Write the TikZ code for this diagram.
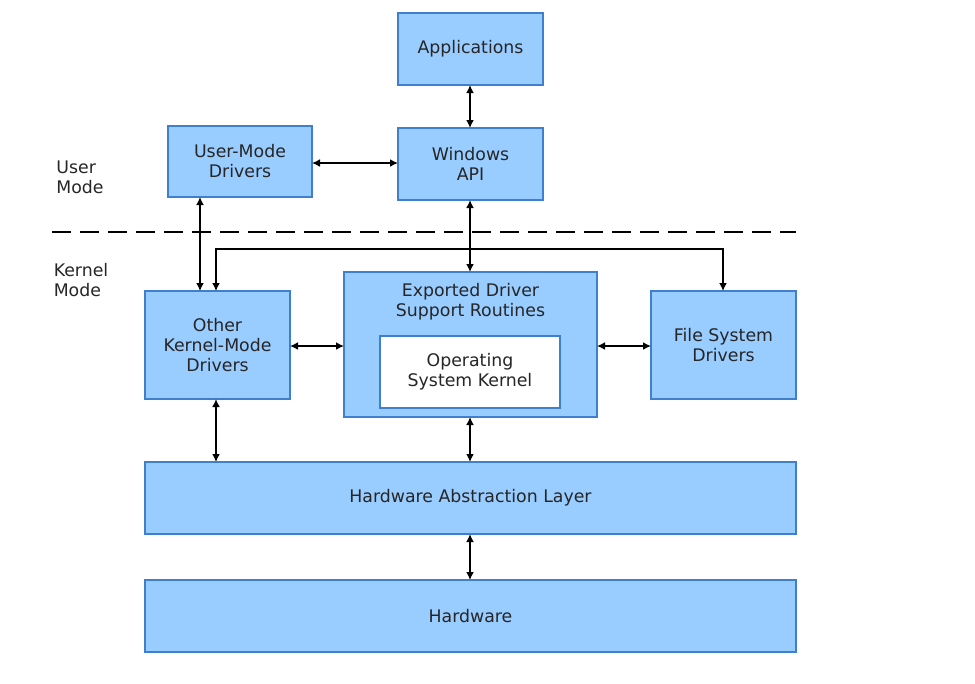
\documentclass[tikz,border=0pt]{standalone}
\usepackage{fontspec}
\setmainfont{DejaVu Sans}
\usetikzlibrary{arrows.meta}
\definecolor{boxfill}{HTML}{99CCFF}
\definecolor{boxline}{HTML}{3F7FD0}
\begin{document}
\begin{tikzpicture}[x=0.75pt,y=-0.75pt,
  box/.style={draw=boxline,fill=boxfill,line width=0.8pt},
  inner/.style={draw=boxline,fill=white,line width=0.8pt},
  lbl/.style={font=\fontsize{13}{15}\selectfont,align=center,text=black!85},
  arr/.style={line width=1.3pt,{Latex[length=6pt,width=6pt]}-{Latex[length=6pt,width=6pt]}},
  sarr/.style={line width=1.3pt,-{Latex[length=6pt,width=6pt]}}]
\useasboundingbox (0,0) rectangle (975,683);
\draw[box] (398,13) rectangle (543,85); \node[lbl] (app) at (470.5,49) {Applications};
\draw[box] (398,128) rectangle (543,200); \node[lbl] (api) at (470.5,164) {Windows\\API};
\draw[box] (168,126) rectangle (312,197); \node[lbl] (umd) at (240,161.5) {User-Mode\\Drivers};
\draw[box] (145,291) rectangle (290,399); \node[lbl] (kmd) at (217.5,345) {Other\\Kernel-Mode\\Drivers};
\draw[box] (344,272) rectangle (597,417); \node[lbl] (exp) at (470.5,302) {Exported Driver\\Support Routines};
\draw[inner] (380,336) rectangle (560,408); \node[lbl] (kern) at (470,372) {Operating\\System Kernel};
\draw[box] (651,291) rectangle (796,399); \node[lbl] (fsd) at (723.5,345) {File System\\Drivers};
\draw[box] (145,462) rectangle (796,534); \node[lbl] (hal) at (470.5,498) {Hardware Abstraction Layer};
\draw[box] (145,580) rectangle (796,652); \node[lbl] (hw) at (470.5,616) {Hardware};
\node[lbl,align=left] (um) at (80,177) {User\\Mode};
\node[lbl,align=left] (km) at (81,280) {Kernel\\Mode};
\draw[line width=1.5pt,dash pattern=on 14pt off 7pt] (52,232) coordinate (d1) -- (796,232) coordinate (d2);
\draw[arr] (470,85) -- (470,128);
\draw[arr] (312,163) -- (398,163);
\draw[arr] (200,197) -- (200,291);
\draw[arr] (470,200) -- (470,272);
\draw[sarr] (470,249) -- (216,249) -- (216,291);
\draw[sarr] (470,249) -- (723,249) -- (723,291);
\draw[arr] (290,346) -- (344,346);
\draw[arr] (597,346) -- (651,346);
\draw[arr] (216,399) -- (216,462);
\draw[arr] (470,417) -- (470,462);
\draw[arr] (470,534) -- (470,580);
\end{tikzpicture}
\end{document}
